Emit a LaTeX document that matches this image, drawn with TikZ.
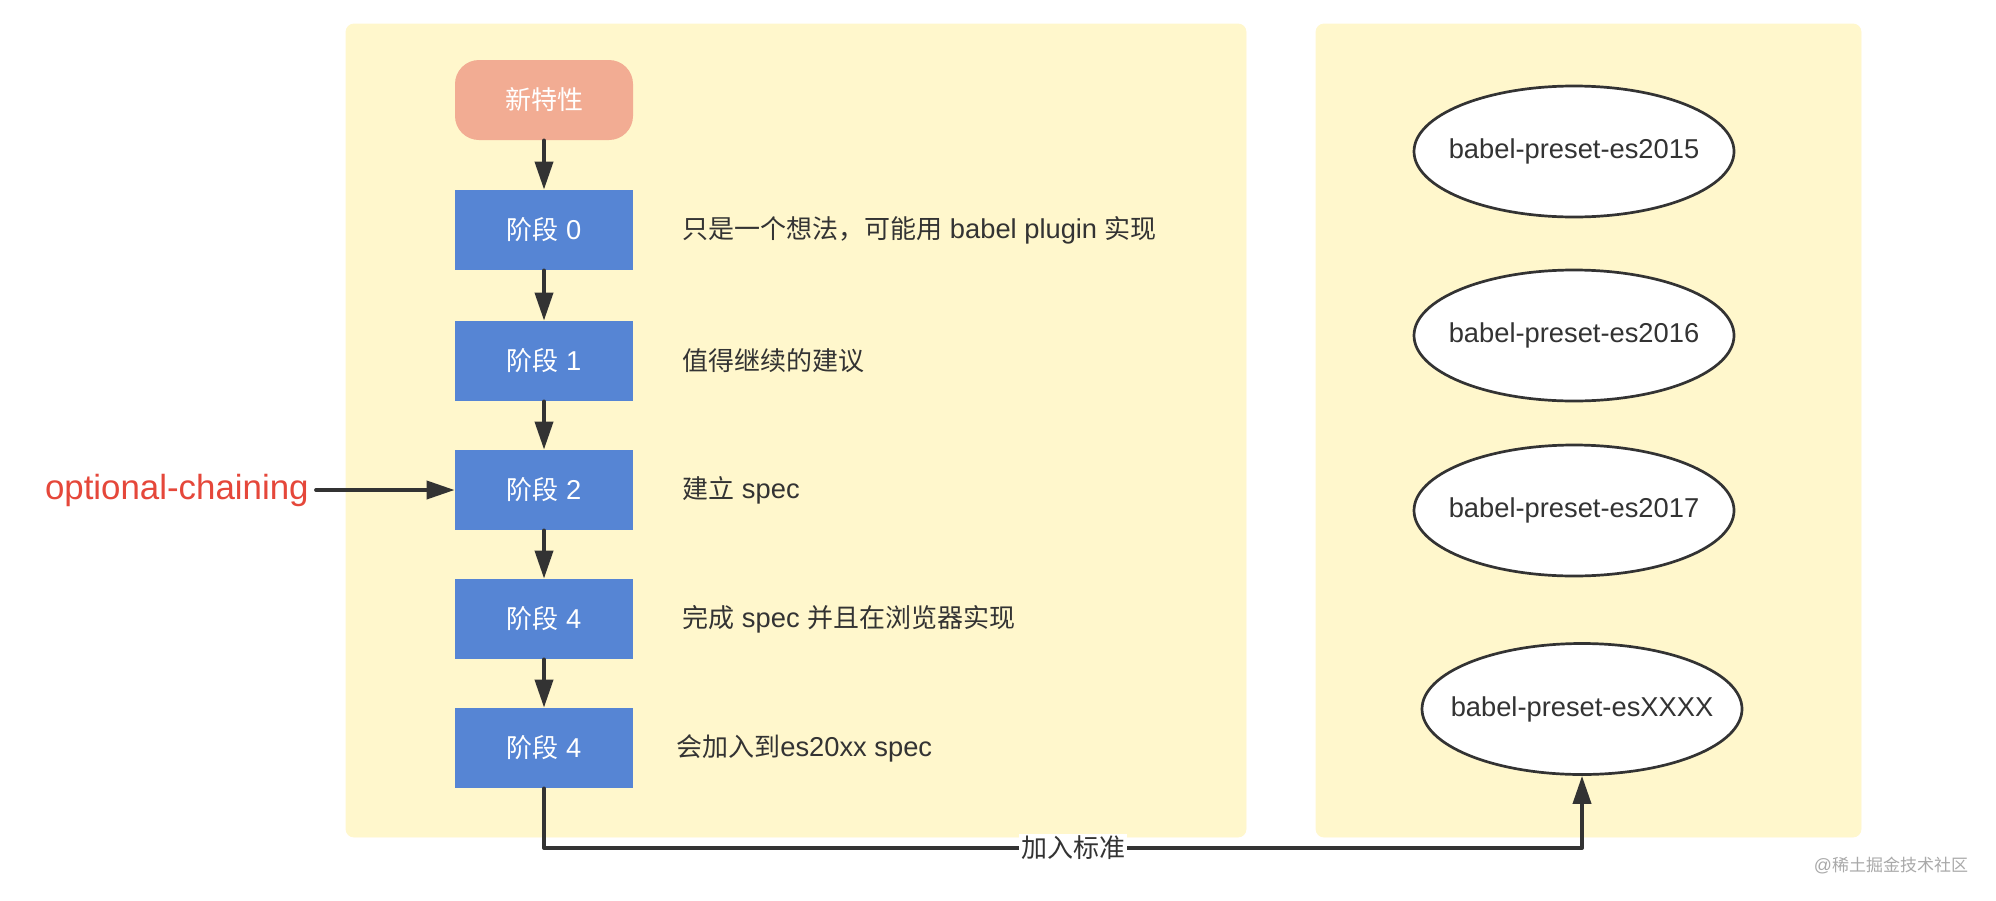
\documentclass[tikz,border=0pt]{standalone}
\usepackage{fontspec}
\setmainfont{Liberation Sans}[Scale=1.05]
\newfontfamily\cjk{Noto Sans CJK SC}
\usetikzlibrary{arrows.meta}
\usetikzlibrary{shapes.geometric}
\definecolor{PanelYellow}{HTML}{FFF7CC}
\definecolor{StageBlue}{HTML}{5685D4}
\definecolor{NewSalmon}{HTML}{F2AC93}
\definecolor{LineGray}{HTML}{333333}
\definecolor{OptRed}{HTML}{E5473A}
\definecolor{MarkGray}{HTML}{A9A9A9}
\newcommand{\txtsize}{\fontsize{13pt}{15pt}\selectfont}

\begin{document}
\begin{tikzpicture}[line cap=round,line join=round,>={Triangle[length=14pt,width=9pt]},x=0.5pt,y=-0.5pt,
  stage/.style={fill=StageBlue,text=white,minimum width=89pt,minimum height=40pt,inner sep=0pt,font=\txtsize},
  preset/.style={ellipse,draw=LineGray,line width=1.35pt,fill=white,text=LineGray,minimum width=160pt,minimum height=65.5pt,inner xsep=-10pt,inner ysep=0pt,font=\txtsize},
  note/.style={anchor=west,inner sep=0pt,text=LineGray,font=\txtsize},
  flow/.style={draw=LineGray,line width=1.9pt,->}]
\useasboundingbox[fill=white] (0,0) rectangle (1996,900);
%panels
\filldraw[PanelYellow,rounded corners=4pt] (346,24) rectangle (1246,837);
\filldraw[PanelYellow,rounded corners=4pt] (1316,24) rectangle (1861,837);
%stages
\node[stage,fill=NewSalmon,rounded corners=12pt] (new) at (544,100) {\cjk 新特性};
\foreach \i/\n/\y in {0/0/230,1/1/361,2/2/490,3/4/619,4/4/748}
\node[stage] (s\i) at (544,\y) {{\cjk 阶段} \n};
\foreach \a/\b in {new/s0,s0/s1,s1/s2,s2/s3,s3/s4}
\draw[flow] (\a) -- (\b);
%notes
\node[note] (d0) at (682,230) {{\cjk 只是一个想法，可能用} babel plugin {\cjk 实现}};
\node[note] (d1) at (682,361) {\cjk 值得继续的建议};
\node[note] (d2) at (682,490) {{\cjk 建立} spec};
\node[note] (d3) at (682,619) {{\cjk 完成} spec {\cjk 并且在浏览器实现}};
\node[note] (d4) at (676,748) {{\cjk 会加入到}es20xx spec};
%proposal
\node[anchor=east,text=OptRed,font=\fontsize{16.6pt}{19pt}\selectfont] (opt) at (316,490) {optional-chaining};
\draw[flow] (opt) -- (s2);
%presets
\foreach \i/\y/\t in {a/151.5/2015,b/335.5/2016,c/510.5/2017}
\node[preset] (p\i) at (1574,\y) {babel-preset-es\t};
\node[preset] (px) at (1582,709) {babel-preset-esXXXX};
\coordinate (turn) at (544,848);
\draw[flow] (s4.south) -- (turn) -| node[pos=0.255,fill=white,inner sep=1pt,text=LineGray,font=\txtsize] (std) {\cjk 加入标准} (px.south);
\node[text=MarkGray,font=\fontsize{8.5pt}{10pt}\selectfont] (mark) at (1891,866) {@{\cjk 稀土掘金技术社区}};
\end{tikzpicture}
\end{document}
